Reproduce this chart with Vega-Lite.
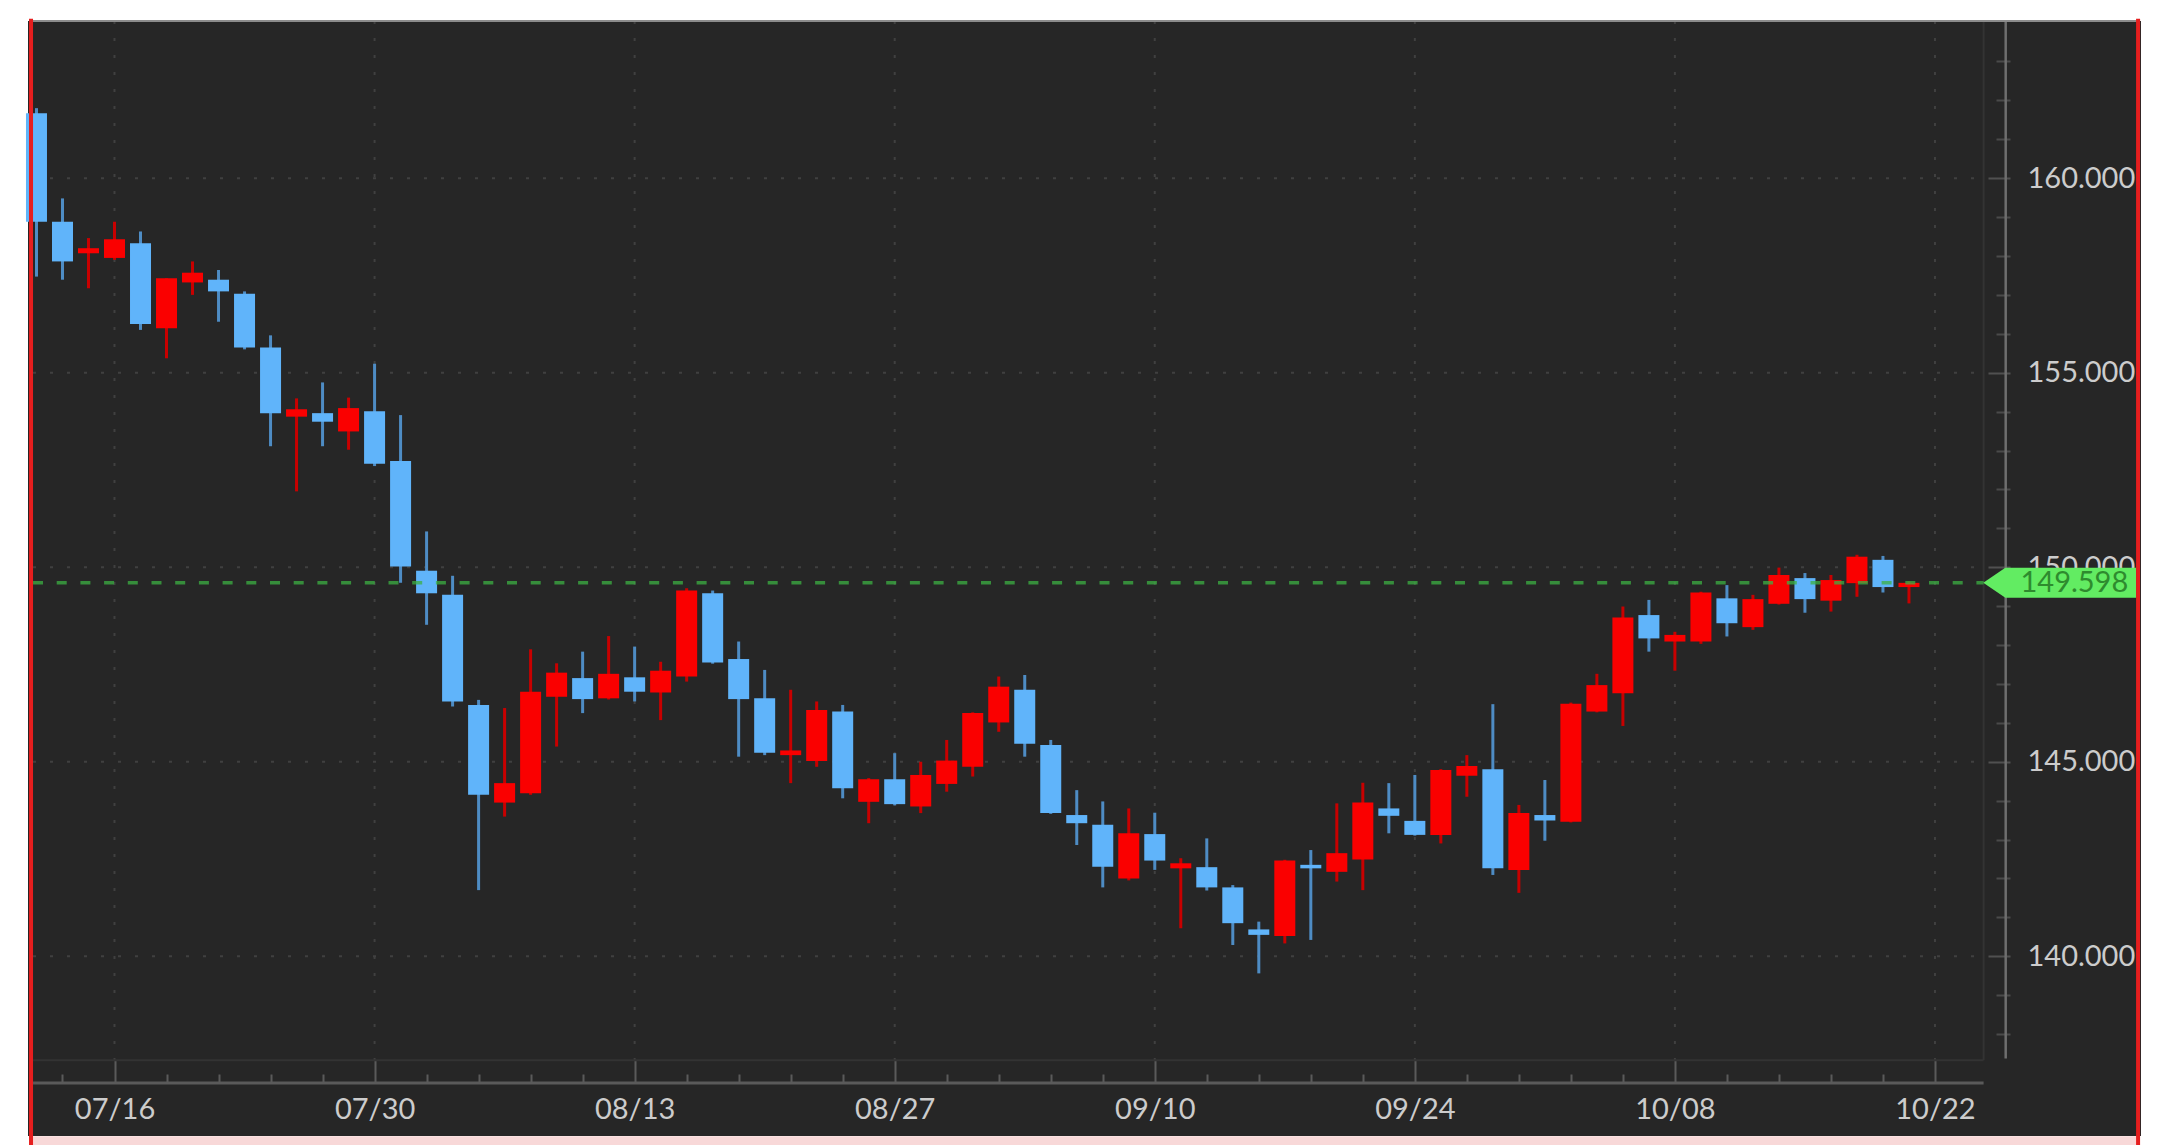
{
  "$schema": "https://vega.github.io/schema/vega-lite/v6.json",
  "width": 2113,
  "height": 1115,
  "autosize": {"type": "none"},
  "padding": {"left": 28, "top": 21, "right": 19, "bottom": 9},
  "background": "#ffffff",
  "config": {
    "view": {"fill": "#262626", "stroke": null},
    "axis": {"labelFont": "Lato", "grid": false, "domain": false, "title": null, "labelColor": "#cccccc", "labelFontSize": 29}
  },
  "datasets": {
    "ohlc": [
      {"i": 0, "d": "07/11", "o": 161.67, "h": 161.8, "l": 157.47, "c": 158.88},
      {"i": 1, "d": "07/12", "o": 158.88, "h": 159.48, "l": 157.39, "c": 157.86},
      {"i": 2, "d": "07/15", "o": 158.07, "h": 158.46, "l": 157.17, "c": 158.2},
      {"i": 3, "d": "07/16", "o": 157.95, "h": 158.88, "l": 157.9, "c": 158.43},
      {"i": 4, "d": "07/17", "o": 158.33, "h": 158.63, "l": 156.1, "c": 156.25},
      {"i": 5, "d": "07/18", "o": 156.14, "h": 157.43, "l": 155.37, "c": 157.43},
      {"i": 6, "d": "07/19", "o": 157.32, "h": 157.86, "l": 157.0, "c": 157.57},
      {"i": 7, "d": "07/22", "o": 157.39, "h": 157.64, "l": 156.31, "c": 157.09},
      {"i": 8, "d": "07/23", "o": 157.03, "h": 157.09, "l": 155.6, "c": 155.65},
      {"i": 9, "d": "07/24", "o": 155.65, "h": 155.96, "l": 153.11, "c": 153.96},
      {"i": 10, "d": "07/25", "o": 153.87, "h": 154.34, "l": 151.95, "c": 154.06},
      {"i": 11, "d": "07/26", "o": 153.96, "h": 154.75, "l": 153.11, "c": 153.74},
      {"i": 12, "d": "07/29", "o": 153.49, "h": 154.36, "l": 153.02, "c": 154.09},
      {"i": 13, "d": "07/30", "o": 154.01, "h": 155.23, "l": 152.6, "c": 152.66},
      {"i": 14, "d": "07/31", "o": 152.73, "h": 153.91, "l": 149.6, "c": 150.02},
      {"i": 15, "d": "08/01", "o": 149.91, "h": 150.92, "l": 148.52, "c": 149.33},
      {"i": 16, "d": "08/02", "o": 149.29, "h": 149.78, "l": 146.42, "c": 146.55},
      {"i": 17, "d": "08/05", "o": 146.46, "h": 146.59, "l": 141.7, "c": 144.15},
      {"i": 18, "d": "08/06", "o": 143.95, "h": 146.38, "l": 143.59, "c": 144.45},
      {"i": 19, "d": "08/07", "o": 144.19, "h": 147.89, "l": 144.15, "c": 146.8},
      {"i": 20, "d": "08/08", "o": 146.67, "h": 147.53, "l": 145.39, "c": 147.29},
      {"i": 21, "d": "08/09", "o": 147.15, "h": 147.83, "l": 146.25, "c": 146.61},
      {"i": 22, "d": "08/12", "o": 146.63, "h": 148.23, "l": 146.6, "c": 147.26},
      {"i": 23, "d": "08/13", "o": 147.17, "h": 147.96, "l": 146.55, "c": 146.8},
      {"i": 24, "d": "08/14", "o": 146.78, "h": 147.57, "l": 146.07, "c": 147.34},
      {"i": 25, "d": "08/15", "o": 147.19, "h": 149.46, "l": 147.06, "c": 149.4},
      {"i": 26, "d": "08/16", "o": 149.33, "h": 149.4, "l": 147.52, "c": 147.55},
      {"i": 27, "d": "08/19", "o": 147.64, "h": 148.09, "l": 145.13, "c": 146.61},
      {"i": 28, "d": "08/20", "o": 146.63, "h": 147.36, "l": 145.17, "c": 145.23},
      {"i": 29, "d": "08/21", "o": 145.17, "h": 146.85, "l": 144.45, "c": 145.29},
      {"i": 30, "d": "08/22", "o": 145.02, "h": 146.55, "l": 144.87, "c": 146.33},
      {"i": 31, "d": "08/23", "o": 146.29, "h": 146.46, "l": 144.06, "c": 144.32},
      {"i": 32, "d": "08/26", "o": 143.97, "h": 144.58, "l": 143.42, "c": 144.55},
      {"i": 33, "d": "08/27", "o": 144.55, "h": 145.22, "l": 143.88, "c": 143.91},
      {"i": 34, "d": "08/28", "o": 143.85, "h": 145.0, "l": 143.68, "c": 144.66},
      {"i": 35, "d": "08/29", "o": 144.43, "h": 145.56, "l": 144.23, "c": 145.03},
      {"i": 36, "d": "08/30", "o": 144.87, "h": 146.27, "l": 144.62, "c": 146.25},
      {"i": 37, "d": "09/02", "o": 146.01, "h": 147.19, "l": 145.77, "c": 146.93},
      {"i": 38, "d": "09/03", "o": 146.85, "h": 147.23, "l": 145.13, "c": 145.46},
      {"i": 39, "d": "09/04", "o": 145.43, "h": 145.56, "l": 143.66, "c": 143.68},
      {"i": 40, "d": "09/05", "o": 143.63, "h": 144.27, "l": 142.86, "c": 143.42},
      {"i": 41, "d": "09/06", "o": 143.38, "h": 143.98, "l": 141.77, "c": 142.3},
      {"i": 42, "d": "09/09", "o": 142.0, "h": 143.8, "l": 141.95, "c": 143.16},
      {"i": 43, "d": "09/10", "o": 143.14, "h": 143.69, "l": 142.22, "c": 142.46},
      {"i": 44, "d": "09/11", "o": 142.26, "h": 142.52, "l": 140.72, "c": 142.39},
      {"i": 45, "d": "09/12", "o": 142.29, "h": 143.03, "l": 141.69, "c": 141.77},
      {"i": 46, "d": "09/13", "o": 141.77, "h": 141.83, "l": 140.29, "c": 140.85},
      {"i": 47, "d": "09/16", "o": 140.69, "h": 140.89, "l": 139.56, "c": 140.55},
      {"i": 48, "d": "09/17", "o": 140.52, "h": 142.48, "l": 140.33, "c": 142.46},
      {"i": 49, "d": "09/18", "o": 142.35, "h": 142.73, "l": 140.42, "c": 142.26},
      {"i": 50, "d": "09/19", "o": 142.17, "h": 143.93, "l": 141.92, "c": 142.65},
      {"i": 51, "d": "09/20", "o": 142.49, "h": 144.46, "l": 141.7, "c": 143.95},
      {"i": 52, "d": "09/23", "o": 143.8, "h": 144.45, "l": 143.16, "c": 143.61},
      {"i": 53, "d": "09/24", "o": 143.48, "h": 144.66, "l": 143.1, "c": 143.12},
      {"i": 54, "d": "09/25", "o": 143.12, "h": 144.81, "l": 142.9, "c": 144.79},
      {"i": 55, "d": "09/26", "o": 144.64, "h": 145.17, "l": 144.1, "c": 144.89},
      {"i": 56, "d": "09/27", "o": 144.81, "h": 146.48, "l": 142.09, "c": 142.26},
      {"i": 57, "d": "09/30", "o": 142.22, "h": 143.89, "l": 141.63, "c": 143.68},
      {"i": 58, "d": "10/01", "o": 143.63, "h": 144.53, "l": 142.97, "c": 143.49},
      {"i": 59, "d": "10/02", "o": 143.46, "h": 146.52, "l": 143.44, "c": 146.49},
      {"i": 60, "d": "10/03", "o": 146.29, "h": 147.26, "l": 146.27, "c": 146.97},
      {"i": 61, "d": "10/04", "o": 146.76, "h": 148.99, "l": 145.92, "c": 148.71},
      {"i": 62, "d": "10/07", "o": 148.77, "h": 149.16, "l": 147.83, "c": 148.17},
      {"i": 63, "d": "10/08", "o": 148.09, "h": 148.34, "l": 147.34, "c": 148.26},
      {"i": 64, "d": "10/09", "o": 148.09, "h": 149.37, "l": 148.03, "c": 149.35},
      {"i": 65, "d": "10/10", "o": 149.2, "h": 149.54, "l": 148.22, "c": 148.56},
      {"i": 66, "d": "10/11", "o": 148.46, "h": 149.29, "l": 148.39, "c": 149.18},
      {"i": 67, "d": "10/14", "o": 149.06, "h": 149.99, "l": 149.04, "c": 149.8},
      {"i": 68, "d": "10/15", "o": 149.72, "h": 149.85, "l": 148.83, "c": 149.18},
      {"i": 69, "d": "10/16", "o": 149.14, "h": 149.8, "l": 148.86, "c": 149.67},
      {"i": 70, "d": "10/17", "o": 149.59, "h": 150.32, "l": 149.24, "c": 150.27},
      {"i": 71, "d": "10/18", "o": 150.19, "h": 150.29, "l": 149.35, "c": 149.49},
      {"i": 72, "d": "10/21", "o": 149.49, "h": 149.63, "l": 149.07, "c": 149.598}
    ],
    "ygrid": [{"g": 140}, {"g": 145}, {"g": 150}, {"g": 155}, {"g": 160}],
    "xgrid": [{"v": 3}, {"v": 13}, {"v": 23}, {"v": 33}, {"v": 43}, {"v": 53}, {"v": 63}, {"v": 73}],
    "last": [{"p": 149.598}],
    "one": [{}]
  },
  "resolve": {"axis": {"x": "independent", "y": "independent"}},
  "layer": [
    {
      "data": {"name": "xgrid"},
      "mark": {"type": "rule", "color": "#404040", "strokeWidth": 2, "strokeDash": [3, 14]},
      "encoding": {
        "x": {"field": "v", "type": "quantitative", "scale": {"domain": [-0.134, 80.73], "nice": false, "zero": false},
          "axis": {"orient": "bottom", "offset": -53, "labels": false, "ticks": true, "tickSize": -9, "tickWidth": 2, "tickColor": "#5a5a5a",
            "values": [1, 5, 7, 9, 11, 15, 17, 19, 21, 25, 27, 29, 31, 35, 37, 39, 41, 45, 47, 49, 51, 55, 57, 59, 61, 65, 67, 69, 71]}},
        "y": {"datum": 164.04, "type": "quantitative", "scale": {"domain": [135.38, 164.04], "nice": false, "zero": false}, "axis": null},
        "y2": {"datum": 137.33}
      }
    },
    {
      "data": {"name": "ygrid"},
      "mark": {"type": "rule", "color": "#404040", "strokeWidth": 2, "strokeDash": [3, 14]},
      "encoding": {
        "y": {"field": "g", "type": "quantitative", "scale": {"domain": [135.38, 164.04], "nice": false, "zero": false},
          "axis": {"orient": "right", "offset": -131, "labels": false, "ticks": true, "tickSize": -14, "tickWidth": 2, "tickColor": "#4a4a4a",
            "values": [138, 139, 141, 142, 143, 144, 146, 147, 148, 149, 151, 152, 153, 154, 156, 157, 158, 159, 161, 162, 163]}},
        "x": {"datum": -0.134, "type": "quantitative", "scale": {"domain": [-0.134, 80.73], "nice": false, "zero": false}, "axis": null},
        "x2": {"datum": 74.87}
      }
    },
    {
      "data": {"name": "one"},
      "mark": {"type": "rule", "color": "#333333", "strokeWidth": 2},
      "encoding": {
        "y": {"datum": 137.33, "type": "quantitative", "scale": {"domain": [135.38, 164.04], "nice": false, "zero": false}, "axis": null},
        "x": {"datum": -0.134, "type": "quantitative", "scale": {"domain": [-0.134, 80.73], "nice": false, "zero": false}, "axis": null},
        "x2": {"datum": 74.87}
      }
    },
    {
      "data": {"name": "one"},
      "mark": {"type": "rule", "color": "#333333", "strokeWidth": 2},
      "encoding": {
        "x": {"datum": 74.87, "type": "quantitative", "scale": {"domain": [-0.134, 80.73], "nice": false, "zero": false}, "axis": null},
        "y": {"datum": 137.33, "type": "quantitative", "scale": {"domain": [135.38, 164.04], "nice": false, "zero": false}, "axis": null},
        "y2": {"datum": 164.04}
      }
    },
    {
      "data": {"name": "one"},
      "mark": {"type": "rule", "color": "#5a5a5a", "strokeWidth": 3},
      "encoding": {
        "y": {"datum": 136.74, "type": "quantitative", "scale": {"domain": [135.38, 164.04], "nice": false, "zero": false}, "axis": null},
        "x": {"datum": -0.134, "type": "quantitative", "scale": {"domain": [-0.134, 80.73], "nice": false, "zero": false}, "axis": null},
        "x2": {"datum": 74.87}
      }
    },
    {
      "data": {"name": "one"},
      "mark": {"type": "rule", "color": "#6e6e6e", "strokeWidth": 2.5},
      "encoding": {
        "x": {"datum": 75.72, "type": "quantitative", "scale": {"domain": [-0.134, 80.73], "nice": false, "zero": false}, "axis": null},
        "y": {"datum": 137.37, "type": "quantitative", "scale": {"domain": [135.38, 164.04], "nice": false, "zero": false}, "axis": null},
        "y2": {"datum": 164.04}
      }
    },
    {
      "data": {"name": "ohlc"},
      "mark": {"type": "rule", "strokeWidth": 3},
      "encoding": {
        "x": {"field": "i", "type": "quantitative", "scale": {"domain": [-0.134, 80.73], "nice": false, "zero": false},
          "axis": {"orient": "bottom", "offset": -53, "ticks": false, "labelPadding": 12, "values": [3, 13, 23, 33, 43, 53, 63, 73],
            "labelExpr": "datum.value == 3 ? '07/16' : datum.value == 13 ? '07/30' : datum.value == 23 ? '08/13' : datum.value == 33 ? '08/27' : datum.value == 43 ? '09/10' : datum.value == 53 ? '09/24' : datum.value == 63 ? '10/08' : '10/22'"}},
        "y": {"field": "l", "type": "quantitative", "scale": {"domain": [135.38, 164.04], "nice": false, "zero": false},
          "axis": {"orient": "right", "offset": -131, "ticks": false, "labelPadding": 17, "labelAlign": "left", "labelBaseline": "middle",
            "values": [140, 145, 150, 155, 160], "format": ".3f"}},
        "y2": {"field": "h"},
        "color": {"condition": {"test": "datum.c >= datum.o", "value": "#c80000"}, "value": "#4e8cc4"}
      }
    },
    {
      "data": {"name": "ohlc"},
      "mark": {"type": "bar", "width": 21},
      "encoding": {
        "x": {"field": "i", "type": "quantitative", "scale": {"domain": [-0.134, 80.73], "nice": false, "zero": false},
          "axis": {"orient": "bottom", "offset": -53, "labels": false, "ticks": true, "tickSize": -23, "tickWidth": 2, "tickColor": "#5a5a5a",
            "values": [3, 13, 23, 33, 43, 53, 63, 73]}},
        "y": {"field": "o", "type": "quantitative", "scale": {"domain": [135.38, 164.04], "nice": false, "zero": false},
          "axis": {"orient": "right", "offset": -131, "labels": false, "ticks": true, "tickSize": -22, "tickWidth": 2, "tickColor": "#505050",
            "values": [140, 145, 150, 155, 160]}},
        "y2": {"field": "c"},
        "color": {"condition": {"test": "datum.c >= datum.o", "value": "#fa0000"}, "value": "#60b4fa"}
      }
    },
    {
      "data": {"name": "last"},
      "mark": {"type": "rule", "color": "#3cb043", "opacity": 0.75, "strokeWidth": 3.5, "strokeDash": [10, 13.7]},
      "encoding": {
        "y": {"field": "p", "type": "quantitative", "scale": {"domain": [135.38, 164.04], "nice": false, "zero": false}, "axis": null},
        "x": {"datum": -0.134, "type": "quantitative", "scale": {"domain": [-0.134, 80.73], "nice": false, "zero": false}, "axis": null},
        "x2": {"datum": 74.87}
      }
    },
    {
      "data": {"name": "last"},
      "mark": {"type": "point", "shape": "M -1 0 L -0.712 -0.196 L 1 -0.196 L 1 0.196 L -0.712 0.196 Z", "size": 23409, "filled": true, "color": "#62ec62", "opacity": 1, "strokeWidth": 0},
      "encoding": {
        "y": {"field": "p", "type": "quantitative", "scale": {"domain": [135.38, 164.04], "nice": false, "zero": false}, "axis": null},
        "x": {"datum": 77.8, "type": "quantitative", "scale": {"domain": [-0.134, 80.73], "nice": false, "zero": false}, "axis": null}
      }
    },
    {
      "data": {"name": "last"},
      "mark": {"type": "text", "font": "Lato", "fontSize": 29, "color": "#2e8b2e", "align": "center", "baseline": "middle"},
      "encoding": {
        "y": {"field": "p", "type": "quantitative", "scale": {"domain": [135.38, 164.04], "nice": false, "zero": false}, "axis": null},
        "x": {"datum": 78.36, "type": "quantitative", "scale": {"domain": [-0.134, 80.73], "nice": false, "zero": false}, "axis": null},
        "text": {"field": "p", "type": "quantitative", "format": ".3f"}
      }
    },
    {
      "data": {"name": "one"},
      "mark": {"type": "rule", "color": "#8c8c8c", "strokeWidth": 2},
      "encoding": {
        "y": {"datum": 164.04, "type": "quantitative", "scale": {"domain": [135.38, 164.04], "nice": false, "zero": false}, "axis": null},
        "x": {"datum": -0.21, "type": "quantitative", "scale": {"domain": [-0.134, 80.73], "nice": false, "zero": false}, "axis": null},
        "x2": {"datum": 80.81}
      }
    },
    {
      "data": {"name": "one"},
      "mark": {"type": "rule", "color": "#f8d8d8", "strokeWidth": 9},
      "encoding": {
        "y": {"datum": 135.26, "type": "quantitative", "scale": {"domain": [135.38, 164.04], "nice": false, "zero": false}, "axis": null},
        "x": {"datum": -0.21, "type": "quantitative", "scale": {"domain": [-0.134, 80.73], "nice": false, "zero": false}, "axis": null},
        "x2": {"datum": 80.81}
      }
    },
    {
      "data": {"name": "one"},
      "mark": {"type": "rule", "color": "#e61e1e", "strokeWidth": 4},
      "encoding": {
        "x": {"datum": -0.21, "type": "quantitative", "scale": {"domain": [-0.134, 80.73], "nice": false, "zero": false}, "axis": null},
        "y": {"datum": 164.1, "type": "quantitative", "scale": {"domain": [135.38, 164.04], "nice": false, "zero": false}, "axis": null},
        "y2": {"datum": 135.15}
      }
    },
    {
      "data": {"name": "one"},
      "mark": {"type": "rule", "color": "#e61e1e", "strokeWidth": 4},
      "encoding": {
        "x": {"datum": 80.81, "type": "quantitative", "scale": {"domain": [-0.134, 80.73], "nice": false, "zero": false}, "axis": null},
        "y": {"datum": 164.1, "type": "quantitative", "scale": {"domain": [135.38, 164.04], "nice": false, "zero": false}, "axis": null},
        "y2": {"datum": 135.15}
      }
    }
  ]
}
